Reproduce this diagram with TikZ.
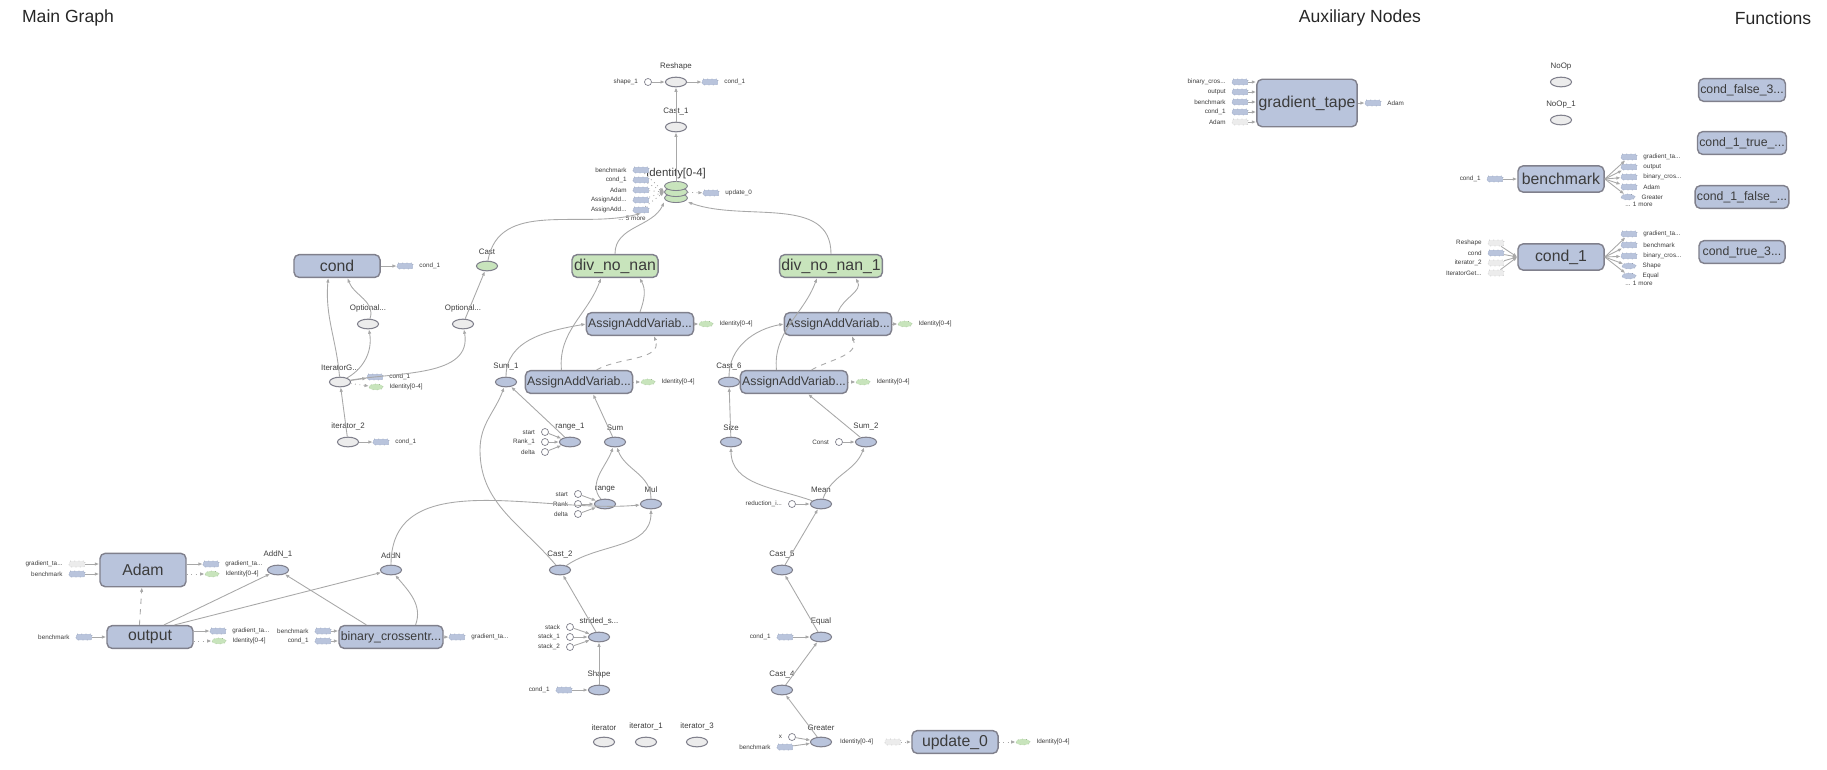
\documentclass[tikz,border=0pt]{standalone}
\usepackage{fontspec}
\setmainfont{Liberation Sans}
\usepackage{xcolor}
\definecolor{op-blue}{RGB}{185,196,220}
\definecolor{op-green}{RGB}{200,228,188}
\definecolor{op-gray}{RGB}{236,236,236}
\definecolor{rim}{RGB}{128,128,140}
\definecolor{wire}{RGB}{168,168,168}
\definecolor{ink}{RGB}{60,60,60}
\usetikzlibrary{arrows.meta,shapes.geometric,positioning}

\begin{document}
\begin{tikzpicture}[
    x=0.02cm, y=-0.02cm,
    meta/.style={rectangle, rounded corners=3pt, draw=rim, line width=0.8pt, fill=#1, minimum width=49pt, minimum height=13pt, inner sep=1pt, font=\fontsize{7}{8}\selectfont, text=ink},
    meta/.default=op-blue,
    op/.style={ellipse, draw=rim, line width=0.6pt, fill=#1, minimum width=12pt, minimum height=5.5pt, inner sep=0pt},
    op/.default=op-blue,
    const/.style={circle, draw=rim, fill=white, line width=0.4pt, minimum size=4pt, inner sep=0pt},
    stub/.style={rectangle, rounded corners=0.8pt, draw=#1!80!black, dotted, fill=#1, minimum width=9pt, minimum height=3.4pt, inner sep=0pt, label distance=1pt},
    stub/.default=op-blue,
    oval stub/.style={stub=#1, ellipse, minimum width=8pt},
    oval stub/.default=op-green,
    name tag/.style={font=\fontsize{4.5}{5}\selectfont, text=ink},
    tiny/.style={font=\fontsize{3.6}{4}\selectfont, text=ink},
    heading/.style={font=\fontsize{10}{12}\selectfont, text=black!85},
    edge/.style={-{Latex[length=2.5pt,width=2pt]}, draw=wire, line width=0.5pt},
    ctrl edge/.style={edge, dashed}
]
\useasboundingbox (0,0) rectangle (1827,769);

% headings
\node[heading] (title-main) at (68,18) {Main Graph};
\node[heading] (title-aux) at (1360,18) {Auxiliary Nodes};
\node[heading] (title-fn) at (1773,18) {Functions};

% top of the main graph
\node[op=op-gray] (reshape) at (676,82) {};
\node[name tag, above=0pt of reshape] {Reshape};
\node[const, label={[tiny]left:shape\_1}] (shape1) at (648,82) {};
\node[stub, label={[tiny]right:cond\_1}] (reshape-out) at (710,82) {};
\draw[edge] (shape1) -- (reshape);
\draw[edge] (reshape) -- (reshape-out);

\node[op=op-gray] (cast1) at (676,127) {};
\node[name tag, above=0pt of cast1] {Cast\_1};

% stacked identity
\node[inner sep=0pt, minimum width=13pt, minimum height=11pt] (ident) at (676,192) {};
\foreach \dy in {6,0,-6}
  \draw[draw=rim, fill=op-green, line width=0.5pt] (676,192+\dy) ellipse (6.5pt and 2.6pt);
\node[font=\fontsize{6.5}{7}\selectfont, text=ink] at (676,174) {Identity[0-4]};
\foreach \name/\yy/\ix in {{benchmark}/170/1, {cond\_1}/180/2, {Adam}/190/3, {AssignAdd...}/200/4, {AssignAdd...}/210/5}
  \node[stub, label={[tiny]left:\name}] (ident-in\ix) at (641,\yy) {};
\foreach \ix in {1,2,3,4,5}
  \draw[edge, dotted] (ident-in\ix) -- (ident.west);
\node[tiny] (ident-more) at (632,218) {... 5 more};
\node[stub, label={[tiny]right:update\_0}] (ident-out) at (711,193) {};
\draw[edge, dotted] (ident) -- (ident-out);
\draw[edge] (ident) -- (cast1);
\draw[edge] (cast1) -- (reshape);

% cond branch
\node[meta] (cond) at (337,266) {\fontsize{9}{10}\selectfont cond};
\node[stub, label={[tiny]right:cond\_1}] (cond-out) at (405,266) {};
\draw[edge] (cond) -- (cond-out);
\node[op=op-green] (cast) at (487,266) {};
\node[name tag, above=0pt of cast] {Cast};
\node[op=op-gray] (opt1) at (368,324) {};
\node[name tag, above=0pt of opt1] {Optional...};
\node[op=op-gray] (opt2) at (463,324) {};
\node[name tag, above=0pt of opt2] {Optional...};
\node[op=op-gray] (iterg) at (340,382) {};
\node[name tag, above=0pt of iterg] {IteratorG...};
\node[stub, label={[tiny]right:cond\_1}] (iterg-out1) at (375,377) {};
\node[oval stub, label={[tiny]right:Identity[0-4]}] (iterg-out2) at (376,387) {};
\node[op=op-gray] (iter2) at (348,442) {};
\node[name tag, above=0pt of iter2] {iterator\_2};
\node[stub, label={[tiny]right:cond\_1}] (iter2-out) at (381,442) {};
\draw[edge] (iterg) -- (iterg-out1);
\draw[edge, dotted] (iterg) -- (iterg-out2);
\draw[edge] (iter2) -- (iter2-out);
\draw[edge] (iter2) -- (iterg);
\draw[edge] (iterg) to[out=95,in=-95] ([xshift=-5pt]cond.south);
\draw[edge] (opt1) to[out=70,in=-70] ([xshift=6pt]cond.south);
\draw[edge] (iterg) to[out=30,in=-80] (opt1);
\draw[edge] (iterg) to[out=10,in=-80] (opt2);
\draw[edge] (opt2) -- (cast);
\draw[edge] (cast) to[out=80,in=195] (ident-in5.south);

% div_no_nan branch
\node[meta=op-green] (div0) at (615,266) {\fontsize{9}{10}\selectfont div\_no\_nan};
\node[meta=op-green] (div1) at (831,266) {\fontsize{9}{10}\selectfont div\_no\_nan\_1};
\draw[edge] (div0) to[out=90,in=245] (ident.south west);
\draw[edge] (div1) to[out=90,in=-20] (ident.south east);

\node[meta] (assign0a) at (640,324) {AssignAddVariab...};
\node[meta] (assign0b) at (579,382) {AssignAddVariab...};
\node[meta] (assign1a) at (838,324) {AssignAddVariab...};
\node[meta] (assign1b) at (794,382) {AssignAddVariab...};
\node[oval stub, label={[tiny]right:Identity[0-4]}] (assign0a-out) at (706,324) {};
\node[oval stub, label={[tiny]right:Identity[0-4]}] (assign0b-out) at (648,382) {};
\node[oval stub, label={[tiny]right:Identity[0-4]}] (assign1a-out) at (905,324) {};
\node[oval stub, label={[tiny]right:Identity[0-4]}] (assign1b-out) at (863,382) {};
\foreach \src in {assign0a,assign0b,assign1a,assign1b}
  \draw[edge, dotted] (\src) -- (\src-out);
\draw[edge] (assign0a.north) to[out=70,in=-60] ([xshift=14pt]div0.south);
\draw[edge] ([xshift=-10pt]assign0b.north) to[out=95,in=-110] ([xshift=-8pt]div0.south);
\draw[ctrl edge] ([xshift=10pt]assign0b.north) to[out=30,in=-70] ([xshift=8pt]assign0a.south);
\draw[edge] (assign1a.north) to[out=70,in=-60] ([xshift=14pt]div1.south);
\draw[edge] ([xshift=-10pt]assign1b.north) to[out=95,in=-110] ([xshift=-8pt]div1.south);
\draw[ctrl edge] ([xshift=10pt]assign1b.north) to[out=30,in=-70] ([xshift=8pt]assign1a.south);

% left sums
\node[op] (sum1) at (506,382) {};
\node[name tag, above=0pt of sum1] {Sum\_1};
\node[op] (range1) at (570,442) {};
\node[name tag, above=0pt of range1] {range\_1};
\node[op] (sum) at (615,442) {};
\node[name tag, above=0pt of sum] {Sum};
\node[const, label={[tiny]left:start}] (range1-start) at (545,432) {};
\node[const, label={[tiny]left:Rank\_1}] (range1-rank) at (545,442) {};
\node[const, label={[tiny]left:delta}] (range1-delta) at (545,452) {};
\foreach \c in {start,rank,delta}
  \draw[edge] (range1-\c) -- (range1);
\node[op] (range) at (605,504) {};
\node[name tag, above=0pt of range] {range};
\node[op] (mul) at (651,504) {};
\node[name tag, above=0pt of mul] {Mul};
\node[const, label={[tiny]left:start}] (range-start) at (578,494) {};
\node[const, label={[tiny]left:Rank}] (range-rank) at (578,504) {};
\node[const, label={[tiny]left:delta}] (range-delta) at (578,514) {};
\foreach \c in {start,rank,delta}
  \draw[edge] (range-\c) -- (range);
\node[op] (cast2) at (560,570) {};
\node[name tag, above=0pt of cast2] {Cast\_2};
\node[op] (strided) at (599,637) {};
\node[name tag, above=0pt of strided] {strided\_s...};
\node[const, label={[tiny]left:stack}] (strided-a) at (570,627) {};
\node[const, label={[tiny]left:stack\_1}] (strided-b) at (570,637) {};
\node[const, label={[tiny]left:stack\_2}] (strided-c) at (570,647) {};
\foreach \c in {a,b,c}
  \draw[edge] (strided-\c) -- (strided);
\node[op] (shape) at (599,690) {};
\node[name tag, above=0pt of shape] {Shape};
\node[stub, label={[tiny]left:cond\_1}] (shape-in) at (564,690) {};
\draw[edge] (shape-in) -- (shape);
\draw[edge] (shape) -- (strided);
\draw[edge] (strided) -- (cast2);
\draw[edge] (cast2) to[out=35,in=-90] (mul);
\draw[edge] (cast2) to[out=130,in=-90] (480,450) to[out=90,in=-110] (sum1);
\draw[edge] (range) to[out=130,in=-110] (sum);
\draw[edge] (mul) to[out=90,in=-70] (sum);
\draw[edge] (range1) -- (sum1);
\draw[edge] (sum1) to[out=90,in=190] (assign0a.west);
\draw[edge] (sum) -- ([xshift=8pt]assign0b.south);

% right sums
\node[op] (cast6) at (729,382) {};
\node[name tag, above=0pt of cast6] {Cast\_6};
\node[op] (size) at (731,442) {};
\node[name tag, above=0pt of size] {Size};
\node[op] (sum2) at (866,442) {};
\node[name tag, above=0pt of sum2] {Sum\_2};
\node[const, label={[tiny]left:Const}] (sum2-const) at (839,442) {};
\draw[edge] (sum2-const) -- (sum2);
\node[op] (mean) at (821,504) {};
\node[name tag, above=0pt of mean] {Mean};
\node[const, label={[tiny]left:reduction\_i...}] (mean-idx) at (792,504) {};
\draw[edge] (mean-idx) -- (mean);
\node[op] (cast5) at (782,570) {};
\node[name tag, above=0pt of cast5] {Cast\_5};
\node[op] (equal) at (821,637) {};
\node[name tag, above=0pt of equal] {Equal};
\node[stub, label={[tiny]left:cond\_1}] (equal-in) at (785,637) {};
\draw[edge] (equal-in) -- (equal);
\node[op] (cast4) at (782,690) {};
\node[name tag, above=0pt of cast4] {Cast\_4};
\node[op] (greater) at (821,742) {};
\node[name tag, above=0pt of greater] {Greater};
\node[const, label={[tiny]left:x}] (greater-x) at (792,737) {};
\node[stub, label={[tiny]left:benchmark}] (greater-in) at (785,747) {};
\draw[edge] (greater-x) -- (greater);
\draw[edge] (greater-in) -- (greater);
\draw[edge] (greater) -- (cast4);
\draw[edge] (cast4) -- (equal);
\draw[edge] (equal) -- (cast5);
\draw[edge] (cast5) -- (mean);
\draw[edge] (mean) to[out=160,in=-90] (size);
\draw[edge] (mean) to[out=70,in=-110] (sum2);
\draw[edge] (size) -- (cast6);
\draw[edge] (cast6) to[out=90,in=190] (assign1a.west);
\draw[edge] (sum2) -- ([xshift=8pt]assign1b.south);

% update_0
\node[tiny, right=1pt of greater] (greater-tag) {Identity[0-4]};
\node[stub=op-gray, right=3pt of greater-tag] (update-in) {};
\node[meta] (update) at (955,742) {\fontsize{9}{10}\selectfont update\_0};
\node[oval stub, label={[tiny]right:Identity[0-4]}] (update-out) at (1023,742) {};
\draw[edge, dotted] (update-in) -- (update);
\draw[edge, dotted] (update) -- (update-out);

% loose iterators
\foreach \nm/\xx in {{iterator}/604, {iterator\_1}/646, {iterator\_3}/697}
  \node[op=op-gray, label={[name tag, label distance=0pt]above:\nm}] at (\xx,742) {};

% training part
\node[meta, minimum height=19pt] (adam) at (143,570) {\fontsize{9}{10}\selectfont Adam};
\node[stub=op-gray, label={[tiny]left:gradient\_ta...}] (adam-in1) at (77,564) {};
\node[stub, label={[tiny]left:benchmark}] (adam-in2) at (77,574) {};
\node[stub, label={[tiny]right:gradient\_ta...}] (adam-out1) at (211,564) {};
\node[oval stub, label={[tiny]right:Identity[0-4]}] (adam-out2) at (212,574) {};
\draw[edge] (adam-in1) -- (adam-in1 -| adam.west);
\draw[edge] (adam-in2) -- (adam-in2 -| adam.west);
\draw[edge] (adam-out1 -| adam.east) -- (adam-out1);
\draw[edge, dotted] (adam-out2 -| adam.east) -- (adam-out2);

\node[meta] (output) at (150,637) {\fontsize{9}{10}\selectfont output};
\node[stub, label={[tiny]left:benchmark}] (output-in) at (84,637) {};
\node[stub, label={[tiny]right:gradient\_ta...}] (output-out1) at (218,631) {};
\node[oval stub, label={[tiny]right:Identity[0-4]}] (output-out2) at (219,641) {};
\draw[edge] (output-in) -- (output);
\draw[edge] (output-out1 -| output.east) -- (output-out1);
\draw[edge, dotted] (output-out2 -| output.east) -- (output-out2);

\node[meta] (bce) at (391,637) {binary\_crossentr...};
\node[stub, label={[tiny]left:benchmark}] (bce-in1) at (323,631) {};
\node[stub, label={[tiny]left:cond\_1}] (bce-in2) at (323,641) {};
\node[stub, label={[tiny]right:gradient\_ta...}] (bce-out) at (457,637) {};
\draw[edge] (bce-in1) -- (bce-in1 -| bce.west);
\draw[edge] (bce-in2) -- (bce-in2 -| bce.west);
\draw[edge] (bce) -- (bce-out);

\node[op] (addn1) at (278,570) {};
\node[name tag, above=0pt of addn1] {AddN\_1};
\node[op] (addn) at (391,570) {};
\node[name tag, above=0pt of addn] {AddN};
\draw[ctrl edge] ([xshift=-6pt]output.north) -- (adam);
\draw[edge] ([xshift=8pt]output.north) -- (addn1);
\draw[edge] ([xshift=14pt]output.north) -- (addn);
\draw[edge] ([xshift=-14pt]bce.north) -- (addn1);
\draw[edge] ([xshift=14pt]bce.north) to[out=70,in=-50] (addn);
\draw[edge] (addn) to[out=90,in=185] (mul);

% auxiliary nodes
\node[meta, minimum height=27pt] (gtape) at (1307,103) {\fontsize{9}{10}\selectfont gradient\_tape};
\foreach \name/\yy/\ix/\cl in {{binary\_cros...}/82/1/op-blue, {output}/92/2/op-blue, {benchmark}/102/3/op-blue, {cond\_1}/112/4/op-blue, {Adam}/122/5/op-gray}
  \node[stub=\cl, label={[tiny]left:\name}] (gtape-in\ix) at (1240,\yy) {};
\foreach \ix in {1,2,3,4,5}
  \draw[edge] (gtape-in\ix) -- (gtape.west |- gtape-in\ix);
\node[stub, label={[tiny]right:Adam}] (gtape-out) at (1373,103) {};
\draw[edge] (gtape) -- (gtape-out);

\node[op=op-gray, label={[name tag, label distance=0pt]above:NoOp}] (noop) at (1561,82) {};
\node[op=op-gray, label={[name tag, label distance=0pt]above:NoOp\_1}] (noop1) at (1561,120) {};

\node[meta, minimum height=15pt] (bench) at (1561,179) {\fontsize{9}{10}\selectfont benchmark};
\node[stub, label={[tiny]left:cond\_1}] (bench-in) at (1495,179) {};
\draw[edge] (bench-in) -- (bench);
\foreach \name/\yy/\ix in {{gradient\_ta...}/157/1, {output}/167/2, {binary\_cros...}/177/3, {Adam}/187/4}
  \node[stub, label={[tiny]right:\name}] (bench-out\ix) at (1629,\yy) {};
\node[oval stub=op-blue, label={[tiny]right:Greater}] (bench-out5) at (1628,197) {};
\foreach \ix in {1,2,3,4,5}
  \draw[edge] (bench.east) -- (bench-out\ix);
\node[tiny] (bench-more) at (1639,204) {... 1 more};

\node[meta, minimum height=15pt] (cond1) at (1561,257) {\fontsize{9}{10}\selectfont cond\_1};
\foreach \name/\yy/\ix/\cl in {{Reshape}/243/1/op-gray, {cond}/253/2/op-blue, {iterator\_2}/263/3/op-gray, {IteratorGet...}/273/4/op-gray}
  \node[stub=\cl, label={[tiny]left:\name}] (cond1-in\ix) at (1496,\yy) {};
\foreach \ix in {1,2,3,4}
  \draw[edge] (cond1-in\ix) -- (cond1.west);
\foreach \name/\yy/\ix in {{gradient\_ta...}/234/1, {benchmark}/245/2, {binary\_cros...}/256/3}
  \node[stub, label={[tiny]right:\name}] (cond1-out\ix) at (1629,\yy) {};
\node[oval stub=op-blue, label={[tiny]right:Shape}] (cond1-out4) at (1629,266) {};
\node[oval stub=op-blue, label={[tiny]right:Equal}] (cond1-out5) at (1629,276) {};
\foreach \ix in {1,2,3,4,5}
  \draw[edge] (cond1.east) -- (cond1-out\ix);
\node[tiny] (cond1-more) at (1639,283) {... 1 more};

% functions
\node[meta] (fn1) at (1742,90) {cond\_false\_3...};
\node[meta] (fn2) at (1742,143) {cond\_1\_true\_...};
\node[meta] (fn3) at (1742,197) {cond\_1\_false\_...};
\node[meta] (fn4) at (1742,252) {cond\_true\_3...};

\end{tikzpicture}
\end{document}
